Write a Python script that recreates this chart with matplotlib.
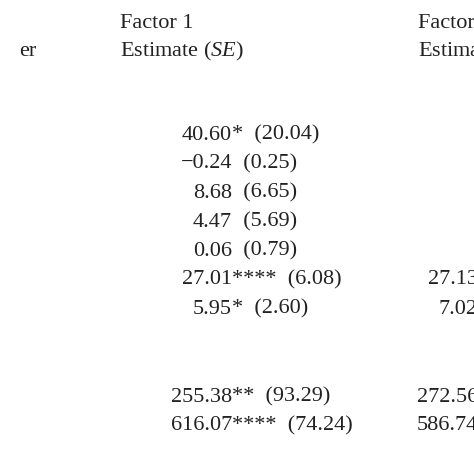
import matplotlib.pyplot as plt

plt.rcParams['font.family'] = ['Liberation Serif', 'DejaVu Serif']
plt.rcParams['mathtext.fontset'] = 'custom'
plt.rcParams['mathtext.rm'] = 'Liberation Serif'
plt.rcParams['mathtext.it'] = 'Liberation Serif:italic'

est1 = ["40.60", "\u22120.24", "8.68", "4.47", "0.06", "27.01", "5.95", "255.38", "616.07"]
stars1 = ["*", "", "", "", "", "****", "*", "**", "****"]
se1 = ["20.04", "0.25", "6.65", "5.69", "0.79", "6.08", "2.60", "93.29", "74.24"]
row_y = [132, 161, 190, 219, 248, 277, 306, 394, 423]

# second factor column, only partly visible at the right edge
est2 = ["27.13", "7.02", "272.56", "586.74"]
y2 = [277, 306, 394, 423]

W = H = 474
fig = plt.figure(figsize=(W / 100, H / 100), dpi=100)
fig.patch.set_facecolor("white")
ax = fig.add_axes([0, 0, 1, 1])
ax.set_xlim(0, W)
ax.set_ylim(H, 0)
ax.axis("off")

fs = 16
col = "#222222"
dy = 3
ax.text(36, 48 + dy, "er", ha="right", va="center", fontsize=fs, color=col)
ax.text(120, 20 + dy, "Factor 1", ha="left", va="center", fontsize=fs, color=col)
ax.text(120, 48 + dy, "Estimate ($\\mathit{SE}$)", ha="left", va="center", fontsize=fs, color=col)
ax.text(418, 20 + dy, "Factor 2", ha="left", va="center", fontsize=fs, color=col, clip_on=True)
ax.text(418, 48 + dy, "Estimate ($\\mathit{SE}$)", ha="left", va="center", fontsize=fs, color=col, clip_on=True)

for y, e, s, se in zip(row_y, est1, stars1, se1):
    ax.text(232, y + dy, e, ha="right", va="center", fontsize=fs, color=col)
    ax.text(232, y + dy, f"{s}  ({se})", ha="left", va="center", fontsize=fs, color=col)

for y, e in zip(y2, est2):
    ax.text(478, y + dy, e, ha="right", va="center", fontsize=fs, color=col, clip_on=True)

fig.savefig("out.png", dpi=100, facecolor="white")
